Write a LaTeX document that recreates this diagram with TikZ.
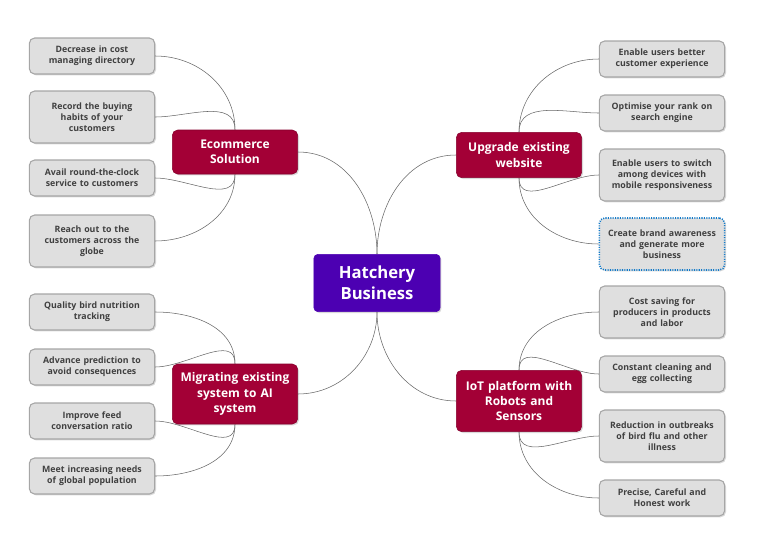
\documentclass[tikz,border=0pt]{standalone}
\usepackage{fontspec}
\setmainfont{Open Sans}
\usetikzlibrary{positioning,shadows,backgrounds}
\tikzstyle{leaf}=[rectangle, rounded corners=4pt, draw=gray!70, fill=gray!25, thick,
                  text=black!75, font=\fontsize{6.6}{8.4}\selectfont\bfseries,
                  text width=88pt, align=center, minimum width=94pt, inner sep=2pt,
                  drop shadow={shadow xshift=1pt, shadow yshift=-1pt, opacity=0.3}]
\tikzstyle{branch}=[rectangle, rounded corners=4pt, fill=purple!85!black, draw=purple!70!black,
                    text=white, font=\fontsize{9}{11.5}\selectfont\bfseries,
                    text width=88pt, align=center, minimum width=94pt, inner sep=3pt,
                    drop shadow={shadow xshift=1pt, shadow yshift=-1pt, opacity=0.3}]
\tikzstyle{hub}=[rectangle, rounded corners=3pt, fill=violet!60!blue, draw=violet!60!blue,
                 text=white, font=\fontsize{12.5}{16}\selectfont\bfseries,
                 text width=88pt, align=center, minimum width=94pt, minimum height=43pt,
                 drop shadow={shadow xshift=1pt, shadow yshift=-1pt, opacity=0.3}]
\tikzstyle{pline}=[-, draw=gray!80!black, thin]

\begin{document}
\begin{tikzpicture}[x=0.75pt, y=-0.75pt]
\useasboundingbox (0,0) rectangle (758,550);

\node (HUB) [hub] at (377,283) {Hatchery\\Business};

\node (ECOM) [branch, minimum height=33pt] at (235,152) {Ecommerce\\Solution};
\node (WEB)  [branch, minimum height=34pt] at (519,155) {Upgrade existing\\website};
\node (AI)   [branch, minimum height=45pt] at (235,394) {Migrating existing\\system to AI\\system};
\node (IOT)  [branch, minimum height=46pt] at (519,401) {IoT platform with\\Robots and\\Sensors};

% left leaves
\node (E1) [leaf, minimum height=27pt] at (92,56)  {Decrease in cost\\managing directory};
\node (E2) [leaf, minimum height=39pt] at (92,117) {Record the buying\\habits of your\\customers};
\node (E3) [leaf, minimum height=27pt] at (92,178) {Avail round-the-clock\\service to customers};
\node (E4) [leaf, minimum height=39pt] at (92,241) {Reach out to the\\customers across the\\globe};
\node (A1) [leaf, minimum height=27pt] at (92,312) {Quality bird nutrition\\tracking};
\node (A2) [leaf, minimum height=27pt] at (92,367) {Advance prediction to\\avoid consequences};
\node (A3) [leaf, minimum height=27pt] at (92,421) {Improve feed\\conversation ratio};
\node (A4) [leaf, minimum height=27pt] at (92,476) {Meet increasing needs\\of global population};

% right leaves
\node (W1) [leaf, minimum height=27pt] at (662,59)  {Enable users better\\customer experience};
\node (W2) [leaf, minimum height=27pt] at (662,113) {Optimise your rank on\\search engine};
\node (W3) [leaf, minimum height=39pt] at (662,175) {Enable users to switch\\among devices with\\mobile responsiveness};
\node (W4) [leaf, minimum height=39pt, draw=cyan!60!blue, densely dotted, very thick] at (662,244) {Create brand awareness\\and generate more\\business};
\node (I1) [leaf, minimum height=39pt] at (662,312) {Cost saving for\\producers in products\\and labor};
\node (I2) [leaf, minimum height=27pt] at (662,374) {Constant cleaning and\\egg collecting};
\node (I3) [leaf, minimum height=39pt] at (662,436) {Reduction in outbreaks\\of bird flu and other\\illness};
\node (I4) [leaf, minimum height=27pt] at (662,498) {Precise, Careful and\\Honest work};

\begin{scope}[on background layer]
 \draw[pline] (HUB.north) to[out=90, in=0] (ECOM.east);
 \draw[pline] (HUB.north) to[out=90, in=180] (WEB.west);
 \draw[pline] (HUB.south) to[out=-90, in=0] (AI.east);
 \draw[pline] (HUB.south) to[out=-90, in=180] (IOT.west);

 \foreach \lf in {E1,E2} \draw[pline] (ECOM.north) to[out=90, in=0] (\lf.east);
 \foreach \lf in {E3,E4} \draw[pline] (ECOM.south) to[out=-90, in=0] (\lf.east);
 \foreach \lf in {A1,A2} \draw[pline] (AI.north) to[out=90, in=0] (\lf.east);
 \foreach \lf in {A3,A4} \draw[pline] (AI.south) to[out=-90, in=0] (\lf.east);
 \foreach \lf in {W1,W2} \draw[pline] (WEB.north) to[out=90, in=180] (\lf.west);
 \foreach \lf in {W3,W4} \draw[pline] (WEB.south) to[out=-90, in=180] (\lf.west);
 \foreach \lf in {I1,I2} \draw[pline] (IOT.north) to[out=90, in=180] (\lf.west);
 \foreach \lf in {I3,I4} \draw[pline] (IOT.south) to[out=-90, in=180] (\lf.west);
\end{scope}

\end{tikzpicture}
\end{document}
